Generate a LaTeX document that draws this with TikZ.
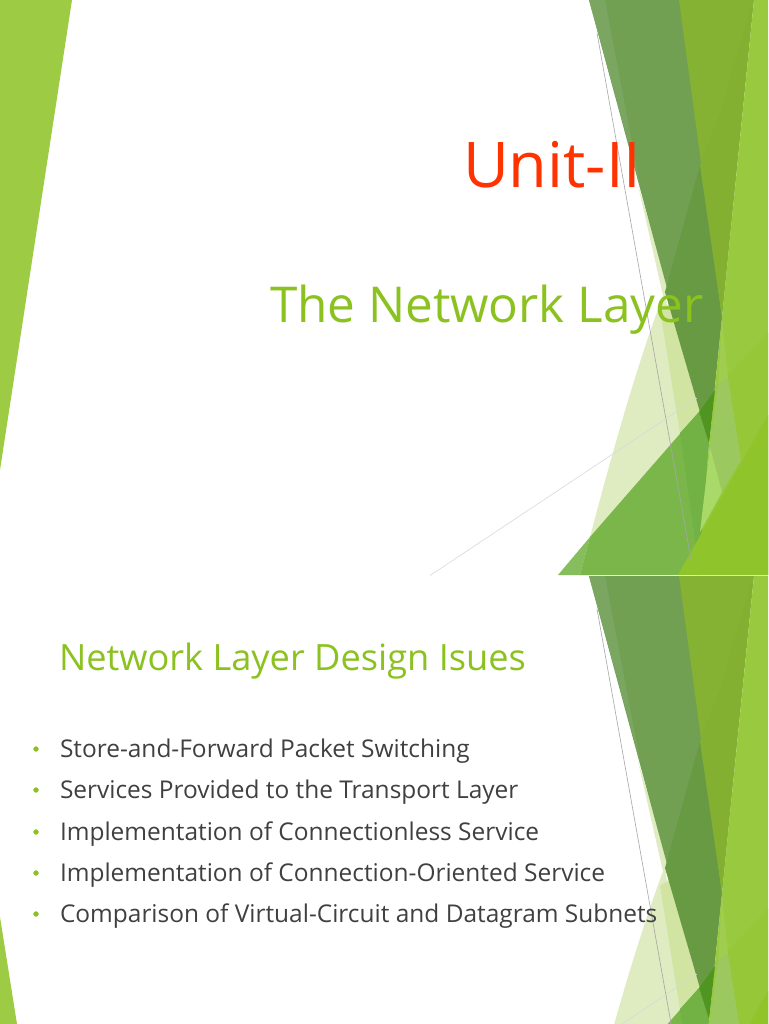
\documentclass[tikz,border=0pt]{standalone}
\usepackage{fontspec}
\setmainfont{Open Sans}
\usepackage{tikz}
\definecolor{leafgreen}{HTML}{9ECB44}
\definecolor{fernband}{HTML}{71A052}
\definecolor{fernsliver}{HTML}{7BA661}
\definecolor{ferndark}{HTML}{689A44}
\definecolor{oliveband}{HTML}{86B234}
\definecolor{olivedark}{HTML}{84B031}
\definecolor{limeband}{HTML}{99C93E}
\definecolor{limelow}{HTML}{95C739}
\definecolor{palegreen}{HTML}{DFEBC0}
\definecolor{paleyellow}{HTML}{D2E4A2}
\definecolor{midgreen}{HTML}{7BB64B}
\definecolor{midgreenb}{HTML}{72B144}
\definecolor{midfaint}{HTML}{86BE5E}
\definecolor{deepgreen}{HTML}{4F951F}
\definecolor{softlime}{HTML}{9CC95F}
\definecolor{softtop}{HTML}{A0CC50}
\definecolor{softlimeb}{HTML}{A9D968}
\definecolor{brightlime}{HTML}{8FC42B}
\definecolor{titlered}{HTML}{FF3300}
\definecolor{titlegreen}{HTML}{8CC220}
\definecolor{bodygray}{HTML}{404040}
\tikzset{
  headtext/.style={anchor=base west,text=titlegreen,inner sep=0pt,outer sep=0pt},
  itemtext/.style={anchor=base west,text=bodygray,inner sep=0pt,outer sep=0pt,font=\fontsize{24.45}{28}\selectfont},
  hairline/.style={line width=0.6pt}
}
% the facets on the right, one slide tall
\newcommand{\facets}{
\fill[palegreen] (665,290) -- (700,575) -- (580,575) .. controls (610,460) and (635,370) .. cycle;
\fill[palegreen] (638,185) -- (668,285) -- (664,300) -- cycle;
\fill[paleyellow] (660,310) -- (680,433) -- (702,412) -- (675,300) -- cycle;
\fill[fernband] (589,0) -- (680,0) -- (722,317) -- (709,443) -- cycle;
\fill[fernsliver] (589,0) -- (605,0) -- (640,185) -- cycle;
\fill[ferndark] (700,165) -- (722,317) -- (709,443) -- (665,292) -- cycle;
\fill[oliveband] (679,0) -- (754,0) -- (722,317) -- cycle;
\fill[olivedark] (753,0) -- (722,317) -- (700,165) -- (720,113) -- cycle;
\fill[limeband] (754,0) -- (768,0) -- (768,575) -- (696,575) -- cycle;
\fill[limelow] (718,385) -- (768,333) -- (768,575) -- (696,575) -- cycle;
\fill[softtop] (722,320) -- (728,378) -- (718,385) -- cycle;
\fill[softlime] (718,385) -- (728,378) -- (741,460) -- (722,492) -- (710,447) -- cycle;
\fill[midfaint] (558,575) -- (590,537) -- (580,575) -- cycle;
\fill[midgreen] (590,537) -- (699,412) -- (709,443) -- (696,575) -- (580,575) -- cycle;
\fill[midgreenb] (680,433) -- (699,412) -- (709,443) -- (702,530) -- (700,575) -- cycle;
\fill[deepgreen] (699,412) -- (715,390) -- (709,443) -- cycle;
\fill[softlimeb] (710,447) -- (722,492) -- (700,532) -- cycle;
\fill[brightlime] (678,575) -- (768,415) -- (768,575) -- cycle;
\draw[gray!70,hairline] (597,33) -- (692,565);
\draw[gray!30,hairline] (430,575.5) -- (697,398);
}

\begin{document}
\begin{tikzpicture}[x=1pt,y=-1pt]
\useasboundingbox (0,0) rectangle (768,1024);
\fill[white] (0,0) rectangle (768,1024);

\facets
\begin{scope}
\clip (0,576) rectangle (768,1024);
\begin{scope}[yshift=-576pt]
\facets
\end{scope}
\end{scope}

\fill[leafgreen] (0,0) -- (72,0) -- (0,470) -- cycle;
\fill[leafgreen] (0,917) -- (17,1024) -- (0,1024) -- cycle;

\node[headtext,text=titlered,font=\fontsize{63}{70}\selectfont] (unit) at (463,188) {Unit-II};
\node[headtext,font=\fontsize{49.4}{56}\selectfont] (layer) at (270,322) {The Network Layer};
\node[headtext,font=\fontsize{36.2}{42}\selectfont] (design) at (59,670) {Network Layer Design Isues};

\foreach \y/\name/\txt in {757/itema/Store-and-Forward Packet Switching,
  798/itemb/Services Provided to the Transport Layer,
  840/itemc/Implementation of Connectionless Service,
  881/itemd/Implementation of Connection-Oriented Service,
  922/iteme/Comparison of Virtual-Circuit and Datagram Subnets}
{
\node[itemtext] (\name) at (60,\y) {\txt};
\filldraw[titlegreen] (36,\y-8) circle (2.4pt);
}
\end{tikzpicture}
\end{document}
